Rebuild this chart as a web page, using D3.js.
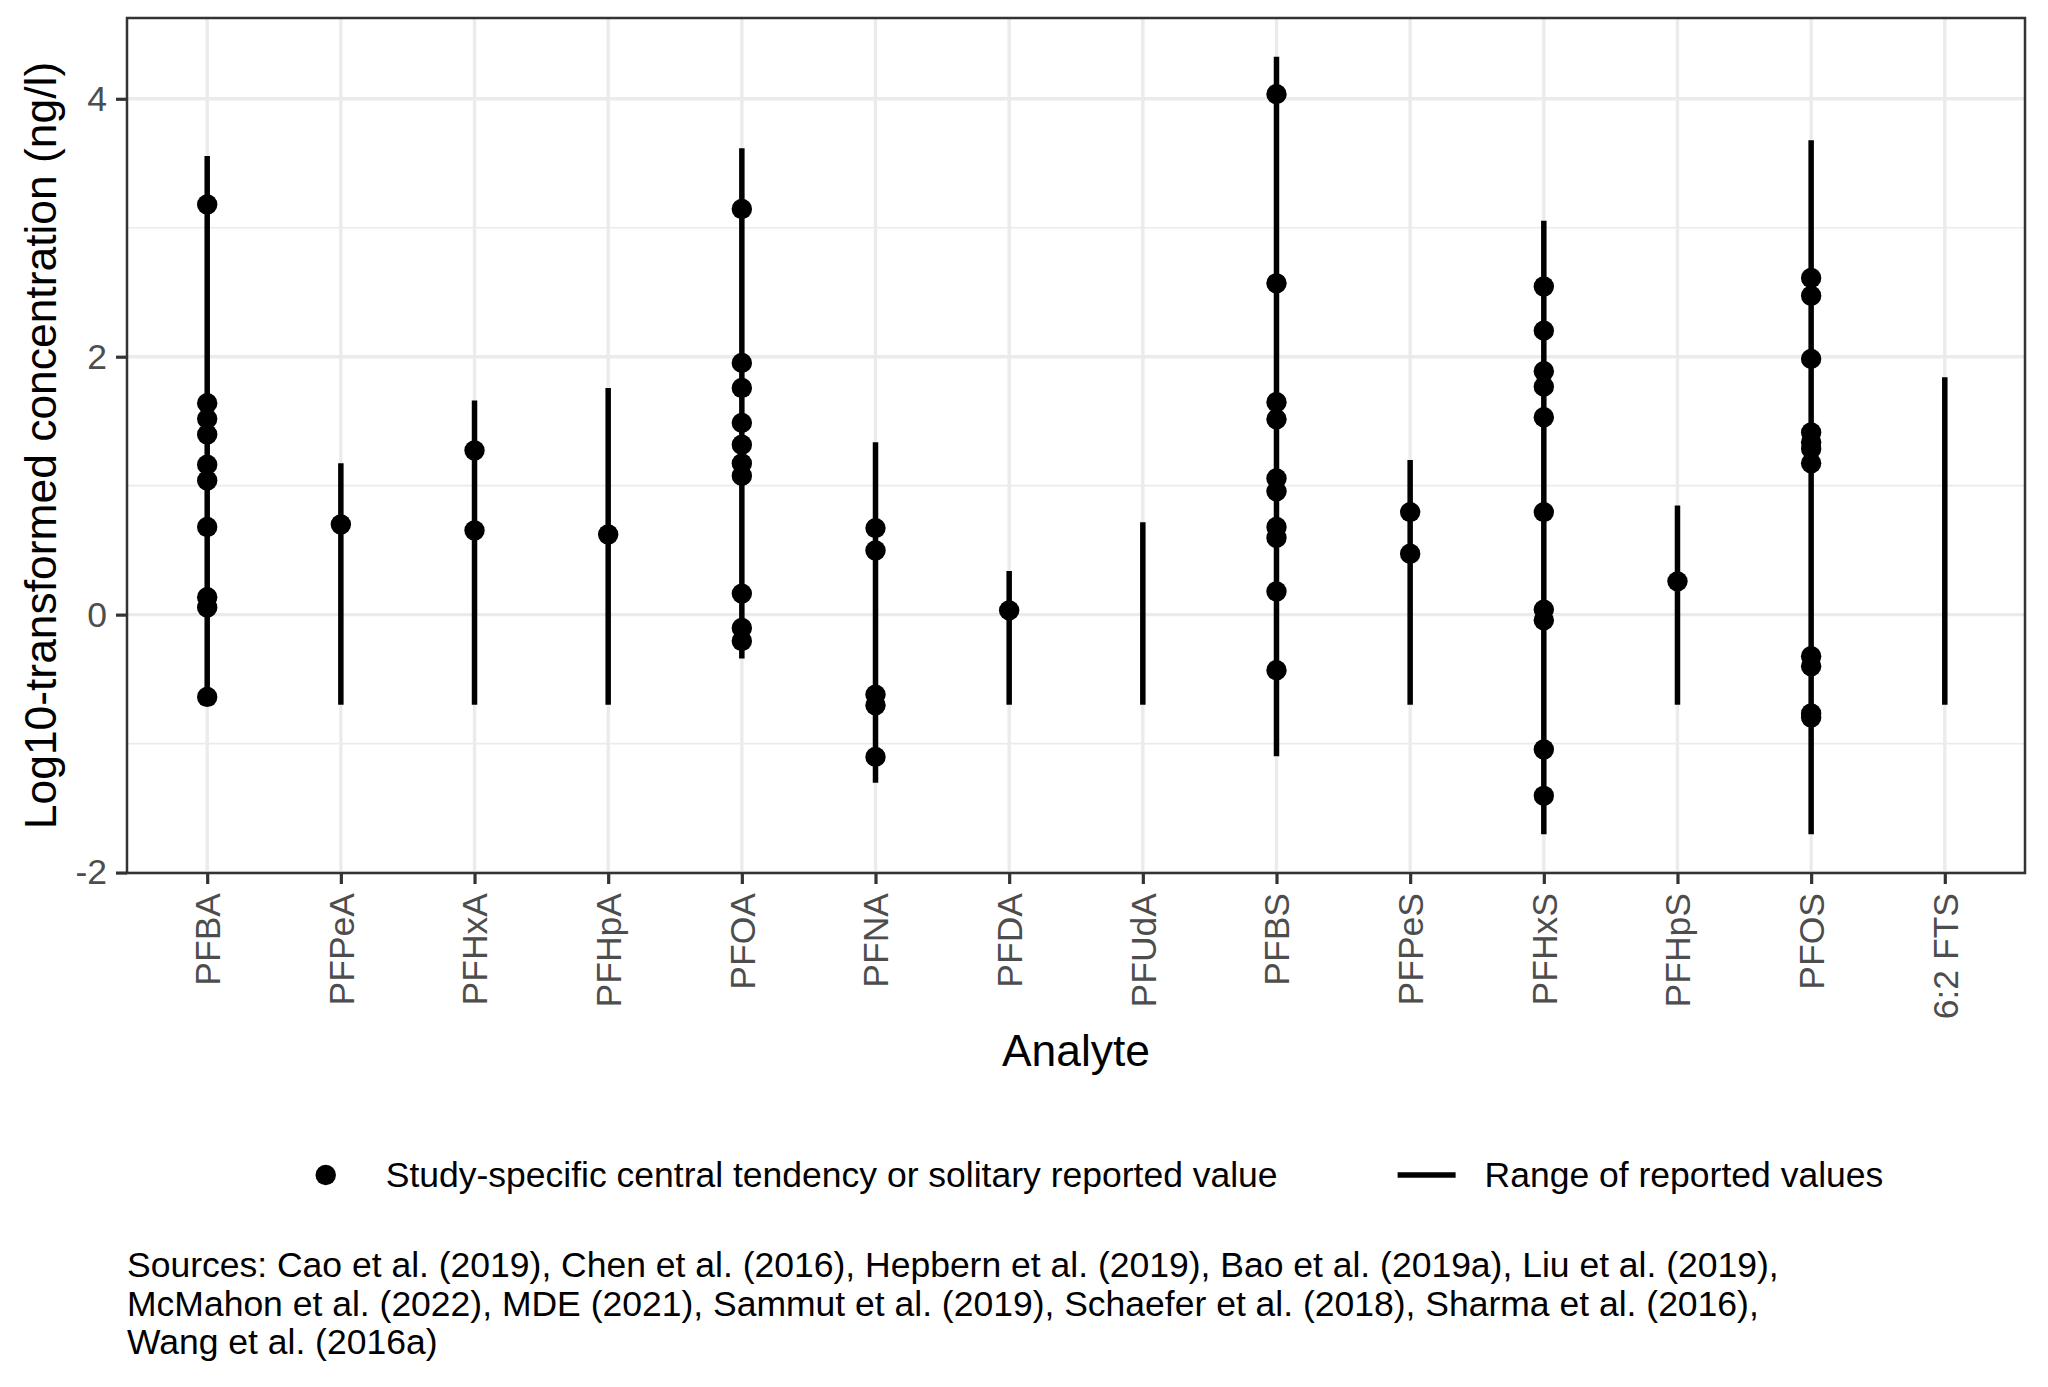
<!DOCTYPE html>
<html>
<head>
<meta charset="utf-8">
<script src="https://cdn.jsdelivr.net/npm/d3@7"></script>
<style>
  body { margin: 0; background: #fff; }
  text { font-family: "Liberation Sans", Arial, sans-serif; }
</style>
</head>
<body>
<svg id="chart" width="2048" height="1387"></svg>
<script>
// analytes on the x axis
const analytes = ["PFBA", "PFPeA", "PFHxA", "PFHpA", "PFOA", "PFNA", "PFDA", "PFUdA",
    "PFBS", "PFPeS", "PFHxS", "PFHpS", "PFOS", "6:2 FTS"];

// range of reported values (log10 ng/l)
const rangeLow = [-0.64, -0.699, -0.699, -0.699, -0.341, -1.304, -0.699, -0.699,
    -1.098, -0.699, -1.702, -0.699, -1.702, -0.699];
const rangeHigh = [3.556, 1.174, 1.66, 1.758, 3.617, 1.337, 0.338, 0.717,
    4.325, 1.2, 3.054, 0.847, 3.679, 1.841];

// study-specific central tendency / solitary values, one list per analyte
const centralValues = [
    [3.18, 1.64, 1.518, 1.397, 1.163, 1.04, 0.679, 0.135, 0.055, -0.638],
    [0.699],
    [1.273, 0.653],
    [0.622],
    [3.145, 1.952, 1.758, 1.487, 1.317, 1.172, 1.077, 0.163, -0.104, -0.204],
    [0.671, 0.498, -0.62, -0.703, -1.103],
    [0.033],
    [],
    [4.036, 2.569, 1.647, 1.515, 1.056, 0.956, 0.679, 0.596, 0.18, -0.431],
    [0.795, 0.472],
    [2.545, 2.202, 1.887, 1.768, 1.531, 0.795, 0.039, -0.044, -1.046, -1.405],
    [0.258],
    [2.61, 2.473, 1.983, 1.412, 1.337, 1.286, 1.174, -0.323, -0.4, -0.767, -0.798],
    []
];

const yTicks = [-2, 0, 2, 4];
const yMinor = [-1, 1, 3];

const legendLabels = ["Study-specific central tendency or solitary reported value", "Range of reported values"];
const captionLines = [
    "Sources: Cao et al. (2019), Chen et al. (2016), Hepbern et al. (2019), Bao et al. (2019a), Liu et al. (2019),",
    "McMahon et al. (2022), MDE (2021), Sammut et al. (2019), Schaefer et al. (2018), Sharma et al. (2016),",
    "Wang et al. (2016a)"
];

const svg = d3.select("#chart");
const panel = { left: 127, right: 2025, top: 18, bottom: 873 };
const smallFont = 35.5, titleFont = 44.4;
const axisGrey = "#4d4d4d", darkGrey = "#333333", gridGrey = "#ebebeb";

svg.append("rect").attr("width", 2048).attr("height", 1387).attr("fill", "#fff");

// ggplot-style 5% expansion of the data range
const lo = d3.min(rangeLow), hi = d3.max(rangeHigh);
const pad = (hi - lo) * 0.05;

const y = d3.scaleLinear()
    .domain([lo - pad, hi + pad])
    .range([panel.bottom, panel.top]);

const x = d3.scalePoint()
    .domain(analytes)
    .range([panel.left, panel.right])
    .padding(0.6);

const rows = analytes.map((a, i) => ({ analyte: a, low: rangeLow[i], high: rangeHigh[i] }));
const pts = [];
analytes.forEach((a, i) => centralValues[i].forEach(v => pts.push({ analyte: a, value: v })));

// grid
const grid = svg.append("g");
grid.selectAll(".minor")
    .data(yMinor)
    .join("line")
    .attr("x1", panel.left).attr("x2", panel.right)
    .attr("y1", d => y(d)).attr("y2", d => y(d))
    .attr("stroke", gridGrey).attr("stroke-width", 1.7);
grid.selectAll(".major")
    .data(yTicks)
    .join("line")
    .attr("x1", panel.left).attr("x2", panel.right)
    .attr("y1", d => y(d)).attr("y2", d => y(d))
    .attr("stroke", gridGrey).attr("stroke-width", 3.4);
grid.selectAll(".vmajor")
    .data(analytes)
    .join("line")
    .attr("x1", d => x(d)).attr("x2", d => x(d))
    .attr("y1", panel.top).attr("y2", panel.bottom)
    .attr("stroke", gridGrey).attr("stroke-width", 3.4);

// ranges
svg.append("g").selectAll("line")
    .data(rows)
    .join("line")
    .attr("x1", d => x(d.analyte)).attr("x2", d => x(d.analyte))
    .attr("y1", d => y(d.low)).attr("y2", d => y(d.high))
    .attr("stroke", "#000").attr("stroke-width", 5.5);

// points
svg.append("g").selectAll("circle")
    .data(pts)
    .join("circle")
    .attr("cx", d => x(d.analyte))
    .attr("cy", d => y(d.value))
    .attr("r", 10.2)
    .attr("fill", "#000");

// panel border
svg.append("rect")
    .attr("x", panel.left).attr("y", panel.top)
    .attr("width", panel.right - panel.left).attr("height", panel.bottom - panel.top)
    .attr("fill", "none").attr("stroke", darkGrey).attr("stroke-width", 2.5);

// y axis (plain hyphen for negatives, like the original)
const yAxis = svg.append("g")
    .attr("transform", `translate(${panel.left},0)`)
    .call(d3.axisLeft(y).tickValues(yTicks).tickSize(11).tickPadding(9).tickFormat(d => String(d)));
yAxis.select(".domain").remove();
yAxis.selectAll(".tick line").attr("stroke", darkGrey).attr("stroke-width", 3.2);
yAxis.selectAll(".tick text")
    .attr("fill", axisGrey)
    .style("font-size", smallFont + "px")
    .style("font-family", "'Liberation Sans', Arial, sans-serif");

// x axis
const xAxis = svg.append("g")
    .attr("transform", `translate(0,${panel.bottom})`)
    .call(d3.axisBottom(x).tickSize(11).tickPadding(0));
xAxis.select(".domain").remove();
xAxis.selectAll(".tick line").attr("stroke", darkGrey).attr("stroke-width", 3.2);
xAxis.selectAll(".tick text")
    .attr("fill", axisGrey)
    .style("font-size", smallFont + "px")
    .style("font-family", "'Liberation Sans', Arial, sans-serif")
    .attr("text-anchor", "end")
    .attr("transform", "translate(0,20) rotate(-90)")
    .attr("x", 0)
    .attr("y", 0)
    .attr("dy", "0.35em");

// axis titles
svg.append("text")
    .attr("x", (panel.left + panel.right) / 2)
    .attr("y", 1066)
    .attr("text-anchor", "middle")
    .style("font-size", titleFont + "px")
    .text("Analyte");

svg.append("text")
    .attr("transform", `translate(56,${(panel.top + panel.bottom) / 2}) rotate(-90)`)
    .attr("text-anchor", "middle")
    .style("font-size", titleFont + "px")
    .text("Log10-transformed concentration (ng/l)");

// legend
const legendY = 1175;
const legend = svg.append("g");
const t1 = legend.append("text")
    .attr("y", legendY).attr("dy", "0.35em")
    .style("font-size", smallFont + "px")
    .text(legendLabels[0]);
const t2 = legend.append("text")
    .attr("y", legendY).attr("dy", "0.35em")
    .style("font-size", smallFont + "px")
    .text(legendLabels[1]);
const w1 = t1.node().getComputedTextLength();
const w2 = t2.node().getComputedTextLength();
const keyW = 58, keyGap = 29, itemGap = 120;
const total = keyW + keyGap + w1 + itemGap + keyW + keyGap + w2;
const start = 1108 - total / 2;
legend.append("circle")
    .attr("cx", start + 10).attr("cy", legendY).attr("r", 10.2).attr("fill", "#000");
t1.attr("x", start + 70);
const k2 = start + 70 + w1 + itemGap;
legend.append("line")
    .attr("x1", k2).attr("x2", k2 + keyW)
    .attr("y1", legendY).attr("y2", legendY)
    .attr("stroke", "#000").attr("stroke-width", 5.5);
t2.attr("x", k2 + keyW + keyGap);

// caption
svg.append("g").selectAll("text")
    .data(captionLines)
    .join("text")
    .attr("x", panel.left)
    .attr("y", (d, i) => 1277 + i * 38.5)
    .style("font-size", smallFont + "px")
    .text(d => d);
</script>
</body>
</html>
